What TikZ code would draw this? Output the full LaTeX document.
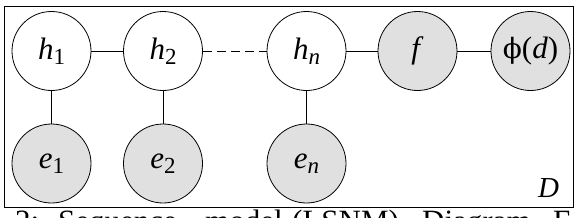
\documentclass[tikz,border=0pt]{standalone}
\usepackage{fontspec}
\setmainfont{Liberation Serif}
\newfontfamily\grk{DejaVu Serif}
\newcommand\lbl[2]{\textit{#1}\raisebox{-0.35ex}{\fontsize{23}{23}\selectfont #2}}
\begin{document}
\begin{tikzpicture}[x=1pt,y=-1pt,
 var/.style={circle,draw,line width=0.8pt,minimum size=79pt,inner sep=0pt,font=\fontsize{31}{31}\selectfont},
 obs/.style={var,fill=black!12},
 edge/.style={line width=0.8pt},
 captext/.style={anchor=base west,inner sep=0pt,font=\fontsize{31}{31}\selectfont}]
\useasboundingbox (0,0) rectangle (578,217);
\draw[line width=0.8pt] (4,6) rectangle (573,207);
\node[var] (h1) at (51.5,51) {\lbl{h}{1}};
\node[var] (h2) at (163,51) {\lbl{h}{2}};
\node[var] (hn) at (306.5,51) {\lbl{h}{\textit{n}}};
\node[obs] (f) at (417.5,51) {\textit{f}};
\node[obs] (phi) at (530.5,51) {{\grk\fontsize{28}{28}\selectfont ϕ}(\textit{d})};
\node[obs] (e1) at (51.5,163.5) {\lbl{e}{1}};
\node[obs] (e2) at (163,163.5) {\lbl{e}{2}};
\node[obs] (en) at (306.5,163.5) {\lbl{e}{\textit{n}}};
\node[anchor=base,inner sep=0pt,font=\fontsize{29}{29}\selectfont] (D) at (548.5,197) {\textit{D}};
\draw[edge] (h1) -- (h2);
\draw[edge,dash pattern=on 9pt off 5pt] (h2) -- (hn);
\draw[edge] (hn) -- (f);
\draw[edge] (f) -- (phi);
\draw[edge] (h1) -- (e1);
\draw[edge] (h2) -- (e2);
\draw[edge] (hn) -- (en);
\node[captext] (c1) at (15,231) {2:};
\node[captext] (c2) at (58,231) {Sequence};
\node[captext] (c3) at (205,231) {model};
\node[captext] (c4) at (292,231) {(LSNM).};
\node[captext] (c5) at (422,231) {Diagram};
\node[captext] (c6) at (553,231) {F};
\end{tikzpicture}
\end{document}
